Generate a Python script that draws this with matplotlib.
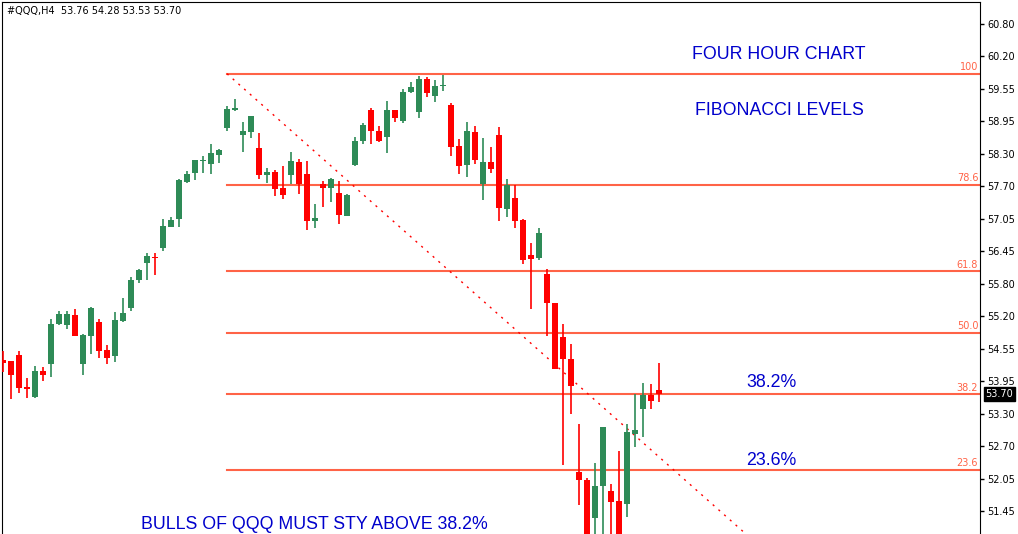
import matplotlib
matplotlib.use("Agg")
import matplotlib.pyplot as plt
import numpy as np

# 4 hour candles, oldest first (#QQQ H4)
opens = [54.35, 54.33, 54.44, 53.83, 53.64, 54.14, 54.26, 55.03, 55.01, 55.21,
         54.26, 54.81, 55.08, 54.54, 54.43, 55.10, 55.35, 55.89, 56.22, 56.33,
         56.49, 56.91, 57.06, 57.77, 57.95, 58.17, 58.12, 58.29, 58.81, 59.16,
         58.68, 58.72, 58.42, 57.91, 57.96, 57.66, 57.91, 58.15, 57.92, 57.01,
         57.72, 57.66, 57.56, 57.12, 58.10, 58.56, 59.15, 58.75, 58.64, 59.15,
         58.95, 59.50, 59.12, 59.75, 59.43, 59.61, 59.25, 58.46, 58.10, 58.73,
         57.72, 58.15, 58.67, 57.25, 57.46, 57.04, 56.37, 56.31, 55.99, 55.45,
         54.79, 54.37, 52.19, 52.03, 51.30, 51.92, 51.83, 51.63, 51.58, 52.93,
         53.40, 53.68, 53.76]
highs = [54.51, 54.33, 54.52, 54.00, 54.23, 54.22, 55.13, 55.29, 55.29, 55.33,
         54.85, 55.37, 55.13, 54.64, 55.27, 55.54, 55.94, 56.10, 56.40, 56.40,
         57.06, 57.10, 57.83, 57.98, 58.19, 58.27, 58.50, 58.40, 59.23, 59.36,
         58.93, 59.04, 58.71, 58.04, 58.00, 58.08, 58.35, 58.21, 58.17, 57.35,
         57.79, 57.85, 57.79, 57.54, 58.63, 58.91, 59.19, 58.85, 59.33, 59.15,
         59.56, 59.69, 59.81, 59.79, 59.73, 59.83, 59.29, 58.60, 58.92, 58.85,
         58.61, 58.44, 58.83, 57.83, 57.71, 57.06, 56.60, 56.88, 56.10, 55.45,
         55.04, 54.65, 53.12, 52.08, 52.37, 53.06, 51.96, 52.60, 53.12, 53.69,
         53.90, 53.89, 54.28]
lows = [54.12, 53.60, 53.72, 53.62, 53.62, 53.95, 54.02, 55.01, 54.95, 54.81,
        54.05, 54.47, 54.39, 54.26, 54.31, 55.08, 55.28, 55.83, 55.89, 55.98,
        56.45, 56.90, 56.91, 57.75, 57.81, 57.94, 57.92, 58.14, 58.74, 59.14,
        58.35, 58.62, 57.83, 57.75, 57.49, 57.45, 57.73, 57.54, 56.85, 56.89,
        57.29, 57.39, 56.97, 57.12, 58.08, 58.50, 58.49, 58.54, 58.33, 58.93,
        58.91, 59.47, 59.00, 59.41, 59.31, 59.52, 58.27, 57.93, 57.87, 58.12,
        57.43, 57.95, 57.02, 57.10, 56.89, 56.20, 55.33, 56.27, 54.81, 54.18,
        52.32, 53.31, 51.56, 50.35, 50.70, 50.85, 50.80, 49.89, 51.33, 52.68,
        52.87, 53.40, 53.53]
closes = [54.29, 54.06, 53.81, 53.78, 54.14, 54.06, 55.04, 55.23, 55.23, 54.81,
          54.83, 55.35, 54.51, 54.39, 55.12, 55.25, 55.89, 56.08, 56.35, 56.30,
          56.92, 57.04, 57.81, 57.92, 58.19, 58.19, 58.33, 58.38, 59.17, 59.18,
          58.75, 59.04, 57.91, 57.96, 57.64, 57.51, 58.17, 57.72, 57.01, 57.08,
          57.66, 57.83, 57.14, 57.52, 58.56, 58.86, 58.74, 58.56, 59.15, 58.99,
          59.50, 59.59, 59.75, 59.47, 59.61, 59.62, 58.45, 58.08, 58.75, 58.20,
          58.15, 58.01, 57.27, 57.71, 57.02, 56.26, 56.29, 56.79, 55.45, 54.18,
          54.37, 53.85, 52.03, 50.55, 51.92, 53.06, 51.62, 50.60, 52.97, 53.00,
          53.68, 53.55, 53.70]

# fibonacci retracement drawn from bar 28
fib_names = ["100", "78.6", "61.8", "50.0", "38.2", "23.6"]
fib_prices = [59.85, 57.71, 56.05, 54.87, 53.69, 52.24]
fib_start = 28
trend_x = [28, 101]
trend_y = [59.85, 49.89]

tick_vals = [60.80, 60.20, 59.55, 58.95, 58.30, 57.70, 57.05, 56.45,
             55.80, 55.20, 54.55, 53.95, 53.30, 52.70, 52.05, 51.45]

green = "#2e8b57"
red = "#ff0000"
fibc = "#ff6347"
blue = "#0000cc"

fig = plt.figure(figsize=(10.18, 5.34), dpi=100)
ax = fig.add_axes([2/1018, 0, 978/1018, 532/534])

o = np.array(opens); h = np.array(highs); l = np.array(lows); c = np.array(closes)
x = np.arange(len(o))
cols = np.where(c >= o, green, red)

ax.vlines(x, l, h, colors=cols, linewidth=1.2, zorder=3)
body_lo = np.minimum(o, c)
body_h = np.maximum(np.abs(c - o), 0.03)
ax.bar(x, body_h, bottom=body_lo, width=0.63, color=cols, linewidth=0, zorder=4)

xmax = 122.125
for name, p in zip(fib_names, fib_prices):
    ax.plot([fib_start, xmax], [p, p], color=fibc, lw=1.5, zorder=2)
    ax.text(121.9, p + 0.03, name, color=fibc, fontsize=7, ha="right", va="bottom")

ax.plot(trend_x, trend_y, color=red, lw=1, linestyle=(0, (1.5, 4)), zorder=2)

big = dict(color=blue, fontsize=12.8, family="Liberation Sans", ha="center", va="center")
ax.text(97, 60.21, "FOUR HOUR CHART", **big)
ax.text(97, 59.15, "FIBONACCI LEVELS", **big)
ax.text(96, 53.91, "38.2%", **big)
ax.text(96, 52.41, "23.6%", **big)
ax.text(38.9, 51.19, "BULLS OF QQQ MUST STY ABOVE 38.2%", **big)

ax.text(0.005, 0.992, "#QQQ,H4  %.2f %.2f %.2f %.2f" % (o[-1], h[-1], l[-1], c[-1]),
        transform=ax.transAxes, fontsize=7, ha="left", va="top")

ax.set_xlim(-0.125, xmax)
ax.set_ylim(51.0, 61.229)
ax.set_xticks([])
ax.yaxis.tick_right()
ax.set_yticks(tick_vals)
ax.set_yticklabels(["%.2f" % v for v in tick_vals])
ax.tick_params(axis="y", labelsize=7, length=3, width=1, pad=2)
ax.spines["bottom"].set_visible(False)

ax.annotate("%.2f" % c[-1], xy=(1.0, c[-1]), xycoords=("axes fraction", "data"),
            xytext=(4, 0), textcoords="offset points", fontsize=7, color="white",
            va="center", ha="left",
            bbox=dict(boxstyle="square,pad=0.2", fc="black", ec="black"))

fig.savefig("out.png", dpi=100)
